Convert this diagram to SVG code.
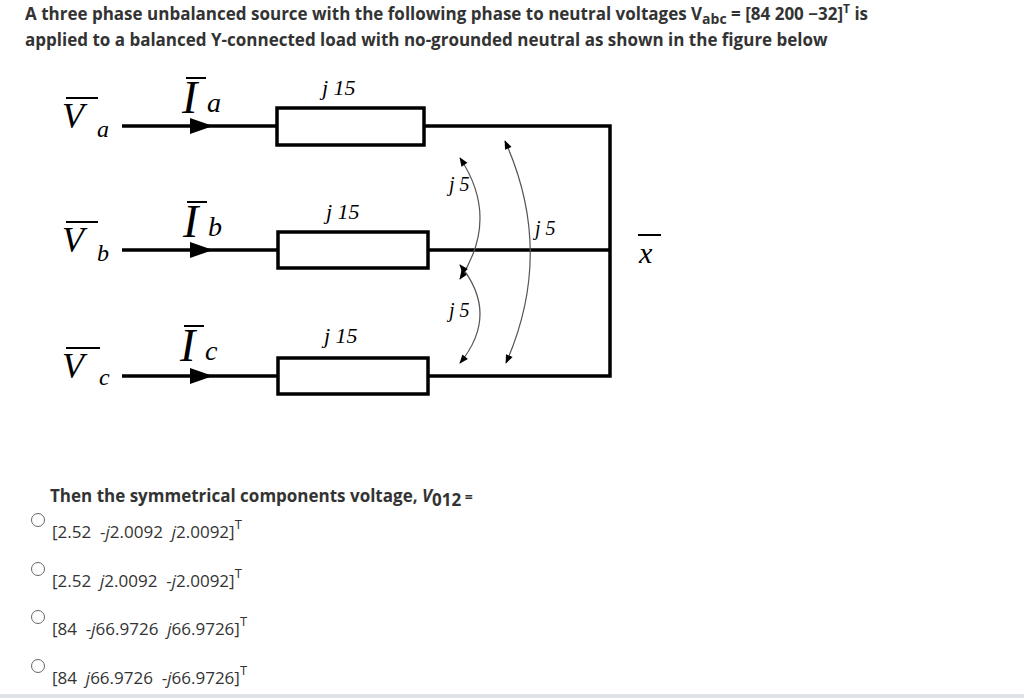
<svg xmlns="http://www.w3.org/2000/svg" width="1024" height="698" viewBox="0 0 1024 698">
<defs>
<marker id="ah" viewBox="0 0 10 10" refX="9" refY="5" markerWidth="10" markerHeight="9" orient="auto-start-reverse" markerUnits="userSpaceOnUse"><path d="M0,1 L10,5 L0,9 z" fill="#000"/></marker>
<style>
.t{font-family:"Open Sans",sans-serif;font-size:17px;font-weight:bold;fill:#333}
.o{font-family:"Open Sans",sans-serif;font-size:17px;fill:#333;white-space:pre}
.s{font-family:"Liberation Serif",serif;font-style:italic;fill:#000}
.w{stroke:#000;stroke-width:3.5;fill:none}
.b{stroke:#000;stroke-width:3.5;fill:#fff}
.m{stroke:#555;stroke-width:1.2;fill:none}
.r{fill:#fff;stroke:#666;stroke-width:1}
.ol{stroke:#000;stroke-width:2}
</style>
</defs>
<rect width="1024" height="698" fill="#fff"/>
<text class="t" x="25" y="20">A three phase unbalanced source with the following phase to neutral voltages V<tspan font-size="14" dy="4">abc</tspan><tspan dy="-4"> = [84 200 −32]</tspan><tspan font-size="12" dy="-7">T</tspan><tspan dy="7"> is</tspan></text>
<text class="t" x="25" y="46">applied to a balanced Y-connected load with no-grounded neutral as shown in the figure below</text>
<g id="connectors">
<path class="w" d="M122,126 H277 M424,126 H610 V376 H427 M122,250 H278 M428,250 H610 M122,376 H278"/>
<path d="M190,118 L213,126 L190,134 z M190,242 L213,250 L190,258 z M190,368 L213,376 L190,384 z" fill="#000"/>
<path class="m" marker-start="url(#ah)" marker-end="url(#ah)" d="M460,158 Q500,218 460,279"/>
<path class="m" marker-start="url(#ah)" marker-end="url(#ah)" d="M460,265 Q500,314 460,363"/>
<path class="m" marker-start="url(#ah)" marker-end="url(#ah)" d="M505,141 Q555,252 506,363"/>
</g>
<g id="load-a"><rect class="b" x="277" y="108" width="147" height="37"/><text class="s" x="322" y="95" font-size="22">j 15</text></g>
<g id="load-b"><rect class="b" x="278" y="232" width="150" height="36"/><text class="s" x="326" y="219" font-size="22">j 15</text></g>
<g id="load-c"><rect class="b" x="278" y="358" width="150" height="36"/><text class="s" x="324" y="343" font-size="22">j 15</text></g>
<g id="mutual"><text class="s" x="449" y="191" font-size="20">j 5</text><text class="s" x="535" y="235" font-size="20">j 5</text><text class="s" x="449" y="317" font-size="20">j 5</text></g>
<g id="labels">
<text class="s" x="62" y="128" font-size="36">V</text><line class="ol" x1="66" y1="98" x2="98" y2="98"/><text class="s" x="97" y="137" font-size="24">a</text>
<text class="s" x="62" y="252" font-size="36">V</text><line class="ol" x1="66" y1="222" x2="98" y2="222"/><text class="s" x="97" y="261" font-size="24">b</text>
<text class="s" x="62" y="378" font-size="36">V</text><line class="ol" x1="66" y1="348" x2="100" y2="348"/><text class="s" x="99" y="385" font-size="24">c</text>
<text class="s" x="182" y="113" font-size="46">I</text><line class="ol" x1="186" y1="78" x2="206" y2="78"/><text class="s" x="207" y="112" font-size="28">a</text>
<text class="s" x="183" y="237" font-size="46">I</text><line class="ol" x1="187" y1="202" x2="207" y2="202"/><text class="s" x="208" y="236" font-size="28">b</text>
<text class="s" x="180" y="361" font-size="46">I</text><line class="ol" x1="184" y1="326" x2="204" y2="326"/><text class="s" x="205" y="360" font-size="28">c</text>
<text class="s" x="639" y="263" font-size="30">x</text><line class="ol" x1="638" y1="235" x2="661" y2="235"/>
</g>
<text class="t" x="50" y="502">Then the symmetrical components voltage, <tspan font-style="italic">V</tspan><tspan dy="4">012</tspan><tspan dy="-4" font-size="14"> =</tspan></text>
<g id="options">
<circle class="r" cx="38" cy="520" r="6.5"/><text class="o" x="52" y="538">[2.52  -<tspan font-style="italic">j</tspan>2.0092  <tspan font-style="italic">j</tspan>2.0092]<tspan font-size="13" dy="-9">T</tspan></text>
<circle class="r" cx="38" cy="569" r="6.5"/><text class="o" x="52" y="587">[2.52  <tspan font-style="italic">j</tspan>2.0092  -<tspan font-style="italic">j</tspan>2.0092]<tspan font-size="13" dy="-9">T</tspan></text>
<circle class="r" cx="38" cy="617" r="6.5"/><text class="o" x="52" y="635">[84  -<tspan font-style="italic">j</tspan>66.9726  <tspan font-style="italic">j</tspan>66.9726]<tspan font-size="13" dy="-9">T</tspan></text>
<circle class="r" cx="38" cy="666" r="6.5"/><text class="o" x="52" y="684">[84  <tspan font-style="italic">j</tspan>66.9726  -<tspan font-style="italic">j</tspan>66.9726]<tspan font-size="13" dy="-9">T</tspan></text>
</g>
<rect x="0" y="694" width="1024" height="4" fill="#dfe3e8"/>
</svg>
